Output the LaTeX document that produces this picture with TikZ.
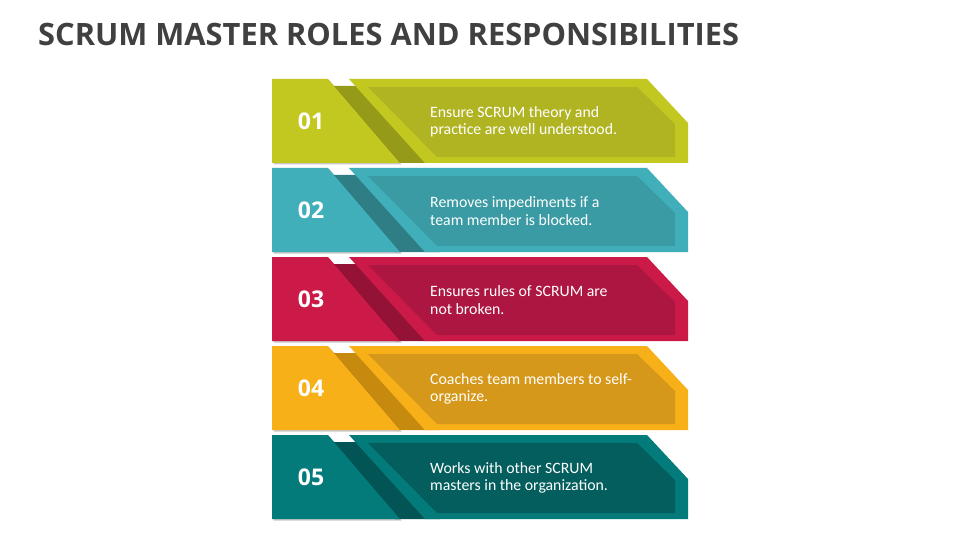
\documentclass[tikz,border=0pt]{standalone}
\usepackage{fontspec}
\setmainfont{Carlito}
\newfontfamily\headfont{Open Sans}
\usetikzlibrary{shadows}

\definecolor{titlegray}{HTML}{404040}
\definecolor{limeM}{HTML}{C3C820}
\definecolor{limeI}{HTML}{B0B422}
\definecolor{limeS}{HTML}{959B18}
\definecolor{tealM}{HTML}{40AFBA}
\definecolor{tealI}{HTML}{3A9BA4}
\definecolor{tealS}{HTML}{2F7E86}
\definecolor{redM}{HTML}{CB1A48}
\definecolor{redI}{HTML}{AD1640}
\definecolor{redS}{HTML}{941236}
\definecolor{amberM}{HTML}{F8B019}
\definecolor{amberI}{HTML}{D5981A}
\definecolor{amberS}{HTML}{C68A0F}
\definecolor{pineM}{HTML}{037B7A}
\definecolor{pineI}{HTML}{045E5E}
\definecolor{pineS}{HTML}{025455}

\tikzset{
    numtext/.style={text=white, font=\headfont\bfseries\fontsize{23}{23}\selectfont},
    bodytext/.style={text=white, anchor=west, align=left, inner sep=0pt,
        font=\fontsize{15.8}{17.5}\selectfont},
    leftdrop/.style={drop shadow={shadow xshift=1.5pt, shadow yshift=-1.5pt,
        opacity=0.22, fill=black}}
}

% one band: #1 top edge, #2 main, #3 inner, #4 strip, #5 index
\newcommand{\scrumband}[5]{%
    \fill[#4] (330, #1 + 7) -- (370, #1 + 7) -- (440, #1 + 84)
        -- (395, #1 + 84) -- cycle;
    \fill[#2, leftdrop] (272, #1) -- (328, #1) -- (400, #1 + 84)
        -- (272, #1 + 84) -- cycle;
    \fill[#2] (349, #1) -- (647, #1) -- (688, #1 + 44) -- (688, #1 + 84)
        -- (425, #1 + 84) -- cycle;
    \fill[#3] (368, #1 + 8) -- (637, #1 + 8) -- (675, #1 + 45)
        -- (675, #1 + 78) -- (437, #1 + 78) -- cycle;
    \node[numtext] (num#5) at (311, #1 + 42) {0#5};}

\begin{document}
\begin{tikzpicture}[x=1pt, y=-1pt]
    \useasboundingbox[fill=white] (0, 0) rectangle (960, 540);
    \node[anchor=base west, inner sep=0pt, text=titlegray,
        font=\headfont\bfseries\fontsize{30.8}{30.8}\selectfont]
        (title) at (38, 46) {SCRUM MASTER ROLES AND RESPONSIBILITIES};
    \foreach \i/\col in {1/lime, 2/teal, 3/red, 4/amber, 5/pine}{
        \pgfmathtruncatemacro{\bandtop}{79 + 89 * (\i - 1)}
        \scrumband{\bandtop}{\col M}{\col I}{\col S}{\i}
    };
    \node[bodytext] (txt1) at (430, 122)
        {Ensure SCRUM theory and\\practice are well understood.};
    \node[bodytext] (txt2) at (430, 211)
        {Removes impediments if a\\team member is blocked.};
    \node[bodytext] (txt3) at (430, 300)
        {Ensures rules of SCRUM are\\not broken.};
    \node[bodytext] (txt4) at (430, 389)
        {Coaches team members to self-\\organize.};
    \node[bodytext] (txt5) at (430, 478)
        {Works with other SCRUM\\masters in the organization.};
\end{tikzpicture}
\end{document}
